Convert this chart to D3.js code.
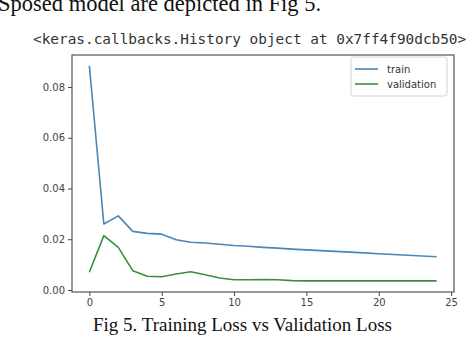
<!DOCTYPE html>
<html>
<head>
<meta charset="utf-8">
<script src="https://cdn.jsdelivr.net/npm/d3@7"></script>
<style>
  html, body { margin: 0; padding: 0; background: #fff; }
  svg { display: block; }
</style>
</head>
<body>
<svg id="chart" width="474" height="338"></svg>
<script>
// Loss per epoch
const epochs = d3.range(0, 25);
const trainLoss = [0.0883, 0.0260, 0.0292, 0.0231, 0.0223, 0.0220, 0.0198, 0.0188, 0.0185, 0.0180,
                   0.0175, 0.0172, 0.0168, 0.0165, 0.0161, 0.0158, 0.0155, 0.0152, 0.0149, 0.0146,
                   0.0143, 0.0140, 0.0137, 0.0134, 0.0131];
const valLoss = [0.0070, 0.0214, 0.0168, 0.0076, 0.0054, 0.0052, 0.0063, 0.0072, 0.0060, 0.0047,
                 0.0040, 0.0040, 0.0041, 0.0040, 0.0037, 0.0036, 0.0036, 0.0036, 0.0036, 0.0036,
                 0.0036, 0.0036, 0.0036, 0.0036, 0.0036];
const xTicks = [0, 5, 10, 15, 20, 25];
const yTicks = [0.00, 0.02, 0.04, 0.06, 0.08];
const seriesNames = ["train", "validation"];
const seriesColors = ["#4a86b6", "#3b8f3b"];

const svg = d3.select("#chart");

// paragraph line above the output
svg.append("text")
  .attr("x", -2).attr("y", 11)
  .attr("font-family", "'Liberation Serif', 'Times New Roman', serif")
  .attr("font-size", 22.5)
  .attr("fill", "#111")
  .text("Sposed model are depicted in Fig 5.");

// notebook output line
svg.append("text")
  .attr("x", 33).attr("y", 44)
  .attr("font-family", "'DejaVu Sans Mono', monospace")
  .attr("font-size", 14.4)
  .attr("fill", "#333")
  .text("<keras.callbacks.History object at 0x7ff4f90dcb50>");

const plot = { left: 72, right: 454, top: 55, bottom: 292 };

const x = d3.scaleLinear().domain([-1.2, 25.2]).range([plot.left, plot.right]);
const y = d3.scaleLinear().domain([-0.0008, 0.0926]).range([plot.bottom, plot.top]);

const tickColor = "#444";

// axes
const xAxis = d3.axisBottom(x).tickValues(xTicks).tickFormat(d3.format("d")).tickSize(4).tickPadding(3);
const yAxis = d3.axisLeft(y).tickValues(yTicks).tickFormat(d3.format(".2f")).tickSize(4).tickPadding(3);

const gx = svg.append("g").attr("transform", `translate(0,${plot.bottom})`).call(xAxis);
const gy = svg.append("g").attr("transform", `translate(${plot.left},0)`).call(yAxis);
[gx, gy].forEach(g => {
  g.select(".domain").remove();
  g.selectAll("line").attr("stroke", tickColor).attr("stroke-width", 1);
  g.selectAll("text")
    .attr("font-family", "'DejaVu Sans', sans-serif")
    .attr("font-size", 10)
    .attr("fill", tickColor);
});

// series lines
const line = d3.line().x((d, i) => x(epochs[i])).y(d => y(d));
[trainLoss, valLoss].forEach((s, k) => {
  svg.append("path")
    .datum(s)
    .attr("d", line)
    .attr("fill", "none")
    .attr("stroke", seriesColors[k])
    .attr("stroke-width", 1.6)
    .attr("stroke-linejoin", "round");
});

// frame
svg.append("rect")
  .attr("x", plot.left).attr("y", plot.top)
  .attr("width", plot.right - plot.left).attr("height", plot.bottom - plot.top)
  .attr("fill", "none").attr("stroke", "#555").attr("stroke-width", 1.2);

// legend
const lg = svg.append("g").attr("transform", "translate(351,57)");
lg.append("rect")
  .attr("width", 96).attr("height", 39).attr("rx", 2.5)
  .attr("fill", "#fff").attr("stroke", "#d4d4d4").attr("stroke-width", 1);
seriesNames.forEach((name, i) => {
  const yy = 12 + i * 15;
  lg.append("line")
    .attr("x1", 4).attr("x2", 27).attr("y1", yy).attr("y2", yy)
    .attr("stroke", seriesColors[i]).attr("stroke-width", 1.6);
  lg.append("text")
    .attr("x", 36).attr("y", yy + 3.6)
    .attr("font-family", "'DejaVu Sans', sans-serif")
    .attr("font-size", 10)
    .attr("fill", "#333")
    .text(name);
});

// caption
svg.append("text")
  .attr("x", 93).attr("y", 331)
  .attr("font-family", "'Liberation Serif', 'Times New Roman', serif")
  .attr("font-size", 19)
  .attr("fill", "#111")
  .text("Fig 5. Training Loss vs Validation Loss");
</script>
</body>
</html>
